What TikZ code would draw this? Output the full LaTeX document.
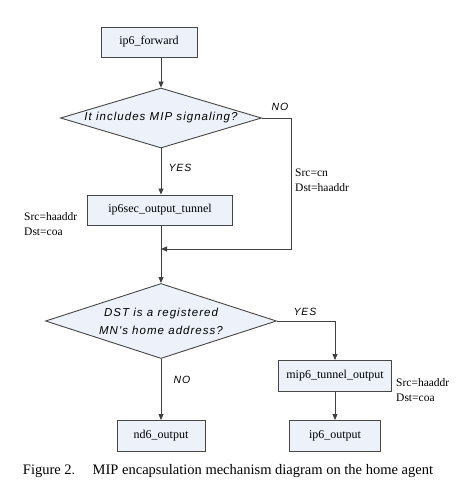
\documentclass[tikz,border=0pt]{standalone}
\usepackage{fontspec}
\setmainfont{Liberation Serif}
\newfontfamily\flowsans[LetterSpace=9]{Liberation Sans}
\usetikzlibrary{shapes.geometric,arrows.meta}
\definecolor{boxfill}{RGB}{236,241,250}
\definecolor{boxline}{RGB}{70,70,70}
\tikzset{
  procbox/.style={draw=boxline,fill=boxfill,line width=0.9pt,inner sep=0pt,
    font=\fontsize{12}{13}\selectfont},
  testbox/.style={diamond,draw=boxline,fill=boxfill,line width=0.9pt,inner sep=0pt,
    align=center,font=\flowsans\itshape\fontsize{11.5}{18}\selectfont},
  flow/.style={draw=black!75,line width=0.8pt,-{Triangle[length=6pt,width=5pt]}},
  tag/.style={font=\flowsans\itshape\fontsize{10.5}{12}\selectfont},
  addr/.style={font=\fontsize{11.5}{15}\selectfont,align=left,anchor=west,inner sep=0pt}
}
\begin{document}
\begin{tikzpicture}[x=1pt,y=-1pt]
    \useasboundingbox (0,0) rectangle (474,496);
    % boxes
    \node[procbox,minimum width=96pt,minimum height=30pt] (fwd) at (149,42) {ip6\_forward};
    \node[testbox,shape aspect=3.35,minimum width=201pt,minimum height=60pt] (sig) at (161,118) {It includes MIP signaling?};
    \node[procbox,minimum width=145pt,minimum height=30pt] (tun) at (160,210) {ip6sec\_output\_tunnel};
    \node[testbox,shape aspect=3.08,minimum width=231pt,minimum height=75pt] (home) at (161,321) {DST is a registered\\MN's home address?};
    \node[procbox,minimum width=113pt,minimum height=31pt] (mip) at (335,376) {mip6\_tunnel\_output};
    \node[procbox,minimum width=88pt,minimum height=31pt] (nd) at (161,436) {nd6\_output};
    \node[procbox,minimum width=91pt,minimum height=31pt] (out) at (335,436) {ip6\_output};
    \coordinate (join) at (161,249);
    \coordinate (nocorner) at (291,118);
    \coordinate (yescorner) at (335,321);
    % connectors
    \draw[flow] (fwd.south -| sig.north) -- (sig.north);
    \draw[flow] (sig.south) -- (tun.north -| sig.south);
    \draw[draw=black!75,line width=0.8pt] (tun.south -| join) -- (join);
    \draw[flow] (sig.east) -- (nocorner) -- (nocorner |- join) -- (join);
    \draw[flow] (join) -- (home.north);
    \draw[flow] (home.east) -- (yescorner) -- (mip.north);
    \draw[flow] (home.south) -- (nd.north);
    \draw[flow] (mip.south) -- (out.north);
    % labels
    \node[tag] (no1) at (280,107) {NO};
    \node[tag] (yes1) at (180,168) {YES};
    \node[tag] (yes2) at (305,312) {YES};
    \node[tag] (no2) at (182,380) {NO};
    \node[addr] (a1) at (295,180) {Src=cn\\Dst=haaddr};
    \node[addr] (a2) at (24,224) {Src=haaddr\\Dst=coa};
    \node[addr] (a3) at (396,390) {Src=haaddr\\Dst=coa};
    \node[font=\fontsize{14.5}{16}\selectfont] (cap) at (228,471)
      {Figure 2.\hspace{1.2em}MIP encapsulation mechanism diagram on the home agent};
\end{tikzpicture}
\end{document}
